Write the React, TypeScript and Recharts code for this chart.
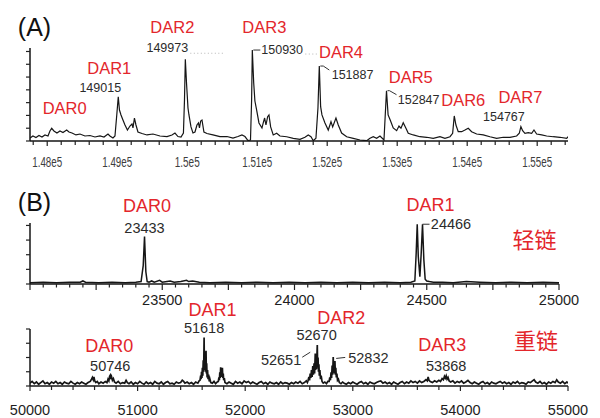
import React from 'react';
import { LineChart, Line, XAxis, YAxis, ReferenceDot } from 'recharts';

const RED = '#e3262b';
const INK = '#161616';
const LATIN = '"Liberation Sans", Arial, Helvetica, sans-serif';
const CJK = '"Noto Sans CJK SC", "Noto Sans CJK TC", sans-serif';

// ---------- Panel A: intact ADC (mass, relative intensity) ----------
const intactMass = [
  147755, 147796, 147839, 147882, 147925, 147968, 148011, 148039, 148064, 148096,
  148139, 148182, 148225, 148278, 148311, 148354, 148411, 148468, 148539, 148611,
  148682, 148754, 148811, 148868, 148896, 148939, 148968, 148996, 149015, 149032,
  149054, 149082, 149111, 149146, 149182, 149211, 149225, 149246, 149268, 149296,
  149354, 149425, 149511, 149611, 149711, 149782, 149825, 149868, 149911, 149946,
  149961, 149973, 149990, 150011, 150025, 150054, 150082, 150111, 150139, 150161,
  150175, 150192, 150211, 150239, 150282, 150368, 150468, 150568, 150654, 150725,
  150782, 150825, 150868, 150904, 150920, 150930, 150950, 150967, 150992, 151025,
  151068, 151086, 151106, 151125, 151149, 151168, 151192, 151229, 151278, 151325,
  151421, 151515, 151611, 151682, 151729, 151768, 151801, 151839, 151868, 151887,
  151906, 151925, 151968, 152015, 152039, 152054, 152078, 152125, 152158, 152206,
  152278, 152372, 152468, 152564, 152611, 152658, 152706, 152754, 152811, 152835,
  152847, 152870, 152900, 152943, 152992, 153025, 153054, 153086, 153125, 153158,
  153229, 153325, 153421, 153515, 153611, 153682, 153754, 153792, 153815, 153839,
  153872, 153921, 153968, 154015, 154063, 154135, 154229, 154325, 154421, 154515,
  154611, 154706, 154744, 154767, 154792, 154825, 154872, 154921, 154954, 154992,
  155064, 155135, 155229, 155325, 155421, 155440,
];
const intactSignal = [
  3.2, 5.4, 3.8, 5.9, 4.3, 6.5, 5.4, 10.8, 13.7, 10.8,
  8.6, 10.8, 9.1, 11.8, 9.7, 8.6, 6.5, 7.5, 5.4, 5.9,
  4.3, 5.4, 4.3, 7.5, 5.4, 3.2, 5.4, 30.1, 47.6, 33.3,
  28, 22.6, 17.2, 11.8, 16.1, 18.3, 14, 24.7, 17.2, 9.7,
  8.1, 6.5, 7.5, 5.4, 4.8, 6.5, 8.6, 4.8, 4.3, 8.6,
  44.1, 87.9, 62.4, 35.5, 28, 15.1, 8.6, 9.7, 17.2, 19.4,
  14, 21.5, 22.6, 9.7, 8.1, 6.5, 4.8, 4.8, 3.2, 4.8,
  6.5, 4.8, 0.5, 1.1, 44.1, 97.8, 62.4, 43, 33.3, 19.4,
  14, 19.4, 24.7, 17.2, 26.1, 28, 15.1, 6.5, 8.3, 5.4,
  4.6, 2.9, 1.8, 4, 6.5, 4.6, 0.3, 2.9, 35.8, 80.6,
  36.9, 28, 19.4, 11.8, 17.2, 20.8, 15.1, 24.7, 17.2, 8.6,
  4.6, 2.9, 1.1, 0.3, 2.9, 4.6, 2.9, 5.4, 1.1, 36.6,
  54.1, 28, 22.6, 14, 11.1, 16.1, 13.7, 19.7, 13.7, 8.3,
  6.5, 4.6, 4, 2.9, 4.6, 2.9, 4.6, 8.3, 26.9, 17.2,
  10, 10, 11.8, 13.7, 10, 7.5, 6.5, 4.6, 2.9, 4,
  4, 5.4, 8.3, 15.4, 11.1, 8.3, 8.9, 8.3, 11.8, 7.5,
  6.5, 5.4, 4.6, 4, 2.9, 4.6,
];

// ---------- Panel B: light chain ----------
const lightMass = [
  23000, 23050, 23100, 23150, 23190, 23200, 23210, 23260, 23310, 23360,
  23400, 23420, 23428, 23433, 23438, 23443, 23450, 23460, 23470, 23490,
  23500, 23530, 23545, 23570, 23592, 23600, 23615, 23640, 23680, 23740,
  23800, 23860, 23920, 23980, 24040, 24100, 24160, 24220, 24280, 24340,
  24400, 24440, 24455, 24460, 24464, 24468, 24474, 24479, 24484, 24489,
  24494, 24500, 24510, 24525, 24560, 24600, 24650, 24700, 24760, 24820,
  24880, 24940, 25000,
];
const lightSignal = [
  2, 3, 2, 3, 3, 5, 3, 2, 3, 2,
  3, 4, 30, 78, 20, 4, 3, 5, 3, 6,
  3, 5, 3, 4, 6, 4, 5, 3, 2, 3,
  2, 3, 2, 3, 2, 3, 2, 3, 2, 3,
  2, 3, 5, 50, 98, 45, 12, 50, 98, 40,
  8, 5, 4, 3, 3, 2, 4, 3, 2, 3,
  2, 3, 2,
];

// ---------- Panel B: heavy chain [mass, relative intensity] ----------
const heavyPoints: [number, number][] = [
  [50000, 5], [50020, 8], [50040, 4], [50060, 7], [50080, 3], [50100, 6], [50120, 9], [50140, 4], [50160, 6], [50180, 3],
  [50200, 7], [50220, 5], [50240, 8], [50260, 4], [50280, 6], [50300, 3], [50320, 7], [50340, 5], [50360, 4], [50380, 8],
  [50400, 5], [50420, 3], [50440, 6], [50460, 4], [50480, 7], [50500, 5], [50520, 3], [50540, 6], [50560, 8], [50572, 12],
  [50580, 15], [50588, 11], [50594, 16], [50602, 9], [50612, 6], [50625, 8], [50640, 4], [50660, 7], [50680, 5], [50700, 8],
  [50715, 6], [50725, 12], [50733, 9], [50740, 17], [50746, 19], [50752, 12], [50758, 16], [50766, 10], [50775, 13], [50785, 7],
  [50800, 5], [50820, 8], [50840, 4], [50860, 6], [50880, 5], [50893, 10], [50905, 6], [50920, 4], [50940, 7], [50960, 3],
  [50980, 6], [51000, 4], [51020, 8], [51040, 5], [51060, 3], [51080, 7], [51100, 4], [51120, 6], [51140, 3], [51160, 8],
  [51180, 5], [51200, 4], [51220, 7], [51240, 3], [51260, 6], [51280, 8], [51300, 4], [51320, 5], [51340, 3], [51360, 7],
  [51380, 5], [51400, 6], [51415, 10], [51428, 8], [51440, 5], [51460, 7], [51480, 4], [51500, 6], [51520, 3], [51540, 7],
  [51560, 5], [51572, 9], [51580, 10], [51586, 18], [51590, 12], [51594, 25], [51598, 14], [51602, 32], [51606, 18], [51610, 45],
  [51614, 25], [51618, 85], [51621, 30], [51624, 60], [51627, 28], [51630, 50], [51633, 25], [51636, 62], [51639, 22], [51642, 40],
  [51646, 15], [51650, 28], [51655, 12], [51660, 20], [51666, 8], [51672, 12], [51680, 6], [51695, 5], [51710, 8], [51725, 4],
  [51740, 7], [51750, 8], [51756, 15], [51760, 10], [51764, 24], [51768, 14], [51772, 33], [51776, 16], [51780, 30], [51784, 18],
  [51788, 32], [51792, 14], [51796, 22], [51800, 10], [51806, 14], [51812, 6], [51830, 4], [51850, 7], [51870, 5], [51890, 3],
  [51910, 8], [51930, 5], [51950, 7], [51970, 4], [51990, 9], [52010, 6], [52030, 8], [52050, 4], [52070, 7], [52090, 5],
  [52110, 3], [52130, 6], [52150, 8], [52170, 4], [52190, 6], [52210, 3], [52230, 7], [52250, 5], [52270, 4], [52290, 6],
  [52310, 3], [52330, 7], [52350, 4], [52370, 6], [52390, 5], [52410, 3], [52430, 6], [52450, 4], [52470, 7], [52490, 5],
  [52510, 8], [52530, 4], [52550, 6], [52568, 9], [52578, 6], [52585, 10], [52592, 16], [52598, 10], [52604, 22], [52610, 14],
  [52616, 28], [52622, 16], [52628, 35], [52634, 20], [52640, 40], [52645, 22], [52651, 57], [52655, 28], [52659, 48], [52663, 30],
  [52667, 55], [52670, 72], [52673, 35], [52677, 50], [52681, 25], [52685, 38], [52689, 18], [52694, 28], [52700, 12], [52706, 18],
  [52714, 8], [52725, 5], [52740, 7], [52755, 4], [52768, 8], [52780, 8], [52786, 15], [52792, 10], [52798, 24], [52803, 14],
  [52808, 36], [52813, 20], [52818, 51], [52822, 25], [52826, 40], [52830, 22], [52834, 44], [52838, 20], [52842, 32], [52847, 15],
  [52852, 22], [52858, 10], [52866, 12], [52875, 6], [52890, 4], [52905, 7], [52920, 5], [52940, 3], [52960, 6], [52980, 4],
  [53000, 7], [53020, 5], [53040, 3], [53060, 6], [53080, 8], [53100, 4], [53120, 6], [53140, 3], [53160, 7], [53180, 5],
  [53200, 4], [53220, 6], [53240, 8], [53260, 9], [53280, 5], [53300, 7], [53320, 4], [53340, 6], [53360, 3], [53380, 7],
  [53400, 5], [53420, 3], [53440, 6], [53460, 8], [53480, 4], [53500, 7], [53520, 5], [53540, 9], [53560, 6], [53580, 8],
  [53600, 5], [53620, 9], [53640, 6], [53660, 8], [53680, 11], [53692, 9], [53700, 16], [53708, 10], [53720, 8], [53740, 6],
  [53760, 9], [53780, 7], [53800, 10], [53815, 8], [53830, 13], [53842, 11], [53852, 17], [53860, 14], [53868, 18], [53876, 12],
  [53885, 15], [53895, 9], [53910, 7], [53930, 9], [53950, 5], [53970, 8], [53990, 6], [54010, 9], [54030, 5], [54050, 7],
  [54070, 10], [54090, 6], [54110, 4], [54130, 7], [54150, 5], [54170, 3], [54190, 6], [54210, 8], [54230, 4], [54250, 6],
  [54270, 3], [54290, 7], [54310, 5], [54330, 4], [54350, 6], [54370, 8], [54390, 5], [54410, 7], [54430, 4], [54450, 6],
  [54470, 3], [54490, 7], [54510, 5], [54530, 8], [54550, 4], [54570, 6], [54590, 5], [54610, 3], [54630, 7], [54650, 6],
  [54670, 9], [54685, 11], [54700, 7], [54720, 5], [54740, 8], [54760, 4], [54780, 6], [54800, 3], [54820, 7], [54840, 5],
  [54860, 8], [54880, 6], [54895, 11], [54910, 7], [54930, 5], [54950, 8], [54970, 4], [54990, 7], [55000, 5],
];

// ---------- axis ticks ----------
const ticksA = [
  147800, 148000, 148200, 148400, 148600, 148800, 149000, 149200, 149400, 149600,
  149800, 150000, 150200, 150400, 150600, 150800, 151000, 151200, 151400, 151600,
  151800, 152000, 152200, 152400, 152600, 152800, 153000, 153200, 153400, 153600,
  153800, 154000, 154200, 154400, 154600, 154800, 155000, 155200, 155400,
];
const majorA = [148000, 149000, 150000, 151000, 152000, 153000, 154000, 155000];
const labelsA = ['1.48e5', '1.49e5', '1.5e5', '1.51e5', '1.52e5', '1.53e5', '1.54e5', '1.55e5'];

const ticksLight = [
  23000, 23050, 23100, 23150, 23200, 23250, 23300, 23350, 23400, 23450,
  23500, 23550, 23600, 23650, 23700, 23750, 23800, 23850, 23900, 23950,
  24000, 24050, 24100, 24150, 24200, 24250, 24300, 24350, 24400, 24450,
  24500, 24550, 24600, 24650, 24700, 24750, 24800, 24850, 24900, 24950, 25000,
];
const majorLight = [23500, 24000, 24500, 25000];
const labelsLight = ['23500', '24000', '24500', '25000'];
const longLight = [23000, 23250, 23500, 23750, 24000, 24250, 24500, 24750, 25000];

const ticksHeavy = [
  50000, 50200, 50400, 50600, 50800, 51000, 51200, 51400, 51600, 51800,
  52000, 52200, 52400, 52600, 52800, 53000, 53200, 53400, 53600, 53800,
  54000, 54200, 54400, 54600, 54800, 55000,
];
const majorHeavy = [50000, 51000, 52000, 53000, 54000, 55000];
const labelsHeavy = ['50000', '51000', '52000', '53000', '54000', '55000'];

const yTicksA = [0, 13.75, 27.5, 41.25, 55, 68.75, 82.5, 96.25];
const yTicksLight = [0, 24, 48, 72, 96];
const yTicksHeavy = [0, 25, 50, 75, 100];

// ---------- peak annotations ----------
type Note = {
  x: number; y: number;
  red?: string; redDx?: number; redDy?: number;
  mass?: string; massDx?: number; massDy?: number; massAnchor?: string;
  link?: string; dots?: string;
};

const intactNotes: Note[] = [
  { x: 148064, y: 13.7, red: 'DAR0', redDx: 13, redDy: -20 },
  { x: 149015, y: 47.6, red: 'DAR1', redDx: -9, redDy: -29, mass: '149015', massDx: -18, massDy: -9 },
  { x: 149973, y: 87.9, red: 'DAR2', redDx: -13, redDy: -32, mass: '149973', massDx: -18, massDy: -11, dots: 'M 5 -6 L 38 -6' },
  { x: 150930, y: 97.8, red: 'DAR3', redDx: 12, redDy: -23, mass: '150930', massDx: 9, massDy: 0, massAnchor: 'start', link: 'M 1 0 L 8 0', dots: 'M 53 4 L 65 4' },
  { x: 151887, y: 80.6, red: 'DAR4', redDx: 21.7, redDy: -14, mass: '151887', massDx: 12.4, massDy: 9, massAnchor: 'start', link: 'M 1 0 L 4 0 L 10 4' },
  { x: 152847, y: 54.1, red: 'DAR5', redDx: 24.3, redDy: -13.7, mass: '152847', massDx: 11.3, massDy: 9.3, massAnchor: 'start', link: 'M 1 0 L 3 0 L 10 4' },
  { x: 153815, y: 26.9, red: 'DAR6', redDx: 9, redDy: -16 },
  { x: 154767, y: 15.4, red: 'DAR7', redDx: -0.5, redDy: -29.7, mass: '154767', massDx: -17, massDy: -9.7 },
];

const lightNotes: Note[] = [
  { x: 23433, y: 78, red: 'DAR0', redDx: 2.5, redDy: -30.4, mass: '23433', massDx: 0, massDy: -8.4 },
  { x: 24484, y: 98, red: 'DAR1', redDx: 8, redDy: -19, mass: '24466', massDx: 8.3, massDy: 0, massAnchor: 'start', link: 'M 0 0 L 7 0' },
];

const heavyNotes: Note[] = [
  { x: 50746, y: 19, red: 'DAR0', redDx: -1, redDy: -29.5, mass: '50746', massDx: 0, massDy: -9 },
  { x: 51618, y: 85, red: 'DAR1', redDx: 8.5, redDy: -27.5, mass: '51618', massDx: 0, massDy: -10 },
  { x: 52670, y: 72, red: 'DAR2', redDx: 24, redDy: -27, mass: '52670', massDx: -0.7, massDy: -10 },
  { x: 52651, y: 57, mass: '52651', massDx: -14, massDy: 6.7, massAnchor: 'end', link: 'M -13 3.7 L -5 -1.3' },
  { x: 52818, y: 51, mass: '52832', massDx: 15, massDy: 1.3, massAnchor: 'start', link: 'M 3 1.5 L 12 0.5' },
  { x: 53868, y: 18, red: 'DAR3', redDx: -4, redDy: -31, mass: '53868', massDx: 0, massDy: -10 },
];

const intactData = intactMass.map((m, i) => ({ m, v: intactSignal[i] }));
const lightData = lightMass.map((m, i) => ({ m, v: lightSignal[i] }));
const heavyData = heavyPoints.map(([m, v]) => ({ m, v }));

// ---------- render helpers ----------
const XTick = (props: any) => {
  const { x, y, payload, majors, labels, longs, len, longLen, labelDy, fontSize, color, textLength } = props;
  const v = payload.value;
  const idx = majors.indexOf(v);
  const isLong = longs ? longs.indexOf(v) >= 0 : idx >= 0;
  const l = isLong ? longLen : len;
  return (
    <g>
      <line x1={x} x2={x} y1={y} y2={y + l} stroke="#222" strokeWidth={1.2} />
      {idx >= 0 && (
        <text
          x={x}
          y={y + labelDy}
          textAnchor="middle"
          dominantBaseline="central"
          fontSize={fontSize}
          fontFamily={LATIN}
          fill={color}
          {...(textLength ? { textLength: textLength * (labels[idx].length / 6), lengthAdjust: 'spacingAndGlyphs' } : {})}
        >
          {labels[idx]}
        </text>
      )}
    </g>
  );
};

const YTick = (props: any) => {
  const { x, y, len } = props;
  return <line x1={x - len} x2={x} y1={y} y2={y} stroke="#222" strokeWidth={1.2} />;
};

const noteLabel = (n: Note, redSize: number, massSize: number) => (props: any) => {
  const vb = props.viewBox || {};
  const cx = (vb.x || 0) + (vb.width || 0) / 2;
  const cy = (vb.y || 0) + (vb.height || 0) / 2;
  return (
    <g>
      {n.dots && (
        <path d={n.dots} transform={`translate(${cx},${cy})`} stroke="#b5b5b5" strokeWidth={1} strokeDasharray="1 2.5" fill="none" />
      )}
      {n.link && (
        <path d={n.link} transform={`translate(${cx},${cy})`} stroke="#333" strokeWidth={1} fill="none" />
      )}
      {n.mass && (
        <text
          x={cx + (n.massDx || 0)}
          y={cy + (n.massDy || 0)}
          textAnchor={(n.massAnchor || 'middle') as any}
          dominantBaseline="central"
          fontSize={massSize}
          fontFamily={LATIN}
          fill="#2b2b2b"
        >
          {n.mass}
        </text>
      )}
      {n.red && (
        <text
          x={cx + (n.redDx || 0)}
          y={cy + (n.redDy || 0)}
          textAnchor="middle"
          dominantBaseline="central"
          fontSize={redSize}
          fontFamily={LATIN}
          fill={RED}
        >
          {n.red}
        </text>
      )}
    </g>
  );
};

const axisStyle = { stroke: '#151515', strokeWidth: 1.5 };

const Tag = ({ text, x, y, size, color, family }: any) => (
  <div
    style={{
      position: 'absolute', left: x, top: y, transform: 'translate(-50%, -50%)',
      fontSize: size, lineHeight: 1, color, fontFamily: family, whiteSpace: 'nowrap',
    }}
  >
    {text}
  </div>
);

export default function App() {
  return (
    <div style={{ position: 'absolute', left: 0, top: 0, width: 600, height: 418, background: '#fff', overflow: 'hidden' }}>
      {/* Panel A */}
      <div style={{ position: 'absolute', left: 0, top: 0 }}>
        <LineChart width={600} height={175} data={intactData} margin={{ top: 48, right: 32, bottom: 4, left: 0 }}>
          <XAxis
            dataKey="m" type="number" domain={[147754, 155440]} allowDataOverflow ticks={ticksA} interval={0}
            height={30} tickSize={0} tickMargin={0} tickLine={false} axisLine={axisStyle}
            tick={<XTick majors={majorA} labels={labelsA} len={4} longLen={5} labelDy={21} fontSize={14} color="#3d3d3d" textLength={30} />}
          />
          <YAxis
            type="number" domain={[0, 100]} allowDataOverflow ticks={yTicksA} interval={0} width={30}
            tickSize={0} tickMargin={0} tickLine={false} axisLine={axisStyle} tick={<YTick len={4} />}
          />
          <Line type="linear" dataKey="v" stroke={INK} strokeWidth={1.2} dot={false} isAnimationActive={false} />
          {intactNotes.map((n, i) => (
            <ReferenceDot key={i} x={n.x} y={n.y} r={0} fill="none" stroke="none" label={noteLabel(n, 16.5, 12.5)} />
          ))}
        </LineChart>
      </div>

      {/* Panel B: light chain */}
      <div style={{ position: 'absolute', left: 0, top: 180 }}>
        <LineChart width={600} height={140} data={lightData} margin={{ top: 43, right: 41, bottom: 6, left: 0 }}>
          <XAxis
            dataKey="m" type="number" domain={[23000, 25000]} allowDataOverflow ticks={ticksLight} interval={0}
            height={30} tickSize={0} tickMargin={0} tickLine={false} axisLine={axisStyle}
            tick={<XTick majors={majorLight} labels={labelsLight} longs={longLight} len={3.5} longLen={6} labelDy={16} fontSize={14.5} color="#1e1e1e" />}
          />
          <YAxis
            type="number" domain={[0, 100]} allowDataOverflow ticks={yTicksLight} interval={0} width={30}
            tickSize={0} tickMargin={0} tickLine={false} axisLine={axisStyle} tick={<YTick len={4} />}
          />
          <Line type="linear" dataKey="v" stroke={INK} strokeWidth={1.5} dot={false} isAnimationActive={false} />
          {lightNotes.map((n, i) => (
            <ReferenceDot key={i} x={n.x} y={n.y} r={0} fill="none" stroke="none" label={noteLabel(n, 18, 14.5)} />
          ))}
        </LineChart>
      </div>

      {/* Panel B: heavy chain */}
      <div style={{ position: 'absolute', left: 0, top: 290 }}>
        <LineChart width={600} height={128} data={heavyData} margin={{ top: 39, right: 32, bottom: 2, left: 0 }}>
          <XAxis
            dataKey="m" type="number" domain={[50000, 55000]} allowDataOverflow ticks={ticksHeavy} interval={0}
            height={30} tickSize={0} tickMargin={0} tickLine={false} axisLine={axisStyle}
            tick={<XTick majors={majorHeavy} labels={labelsHeavy} len={4} longLen={5} labelDy={23.5} fontSize={14.5} color="#1e1e1e" />}
          />
          <YAxis
            type="number" domain={[0, 100]} allowDataOverflow ticks={yTicksHeavy} interval={0} width={30}
            tickSize={0} tickMargin={0} tickLine={false} axisLine={axisStyle} tick={<YTick len={4} />}
          />
          <Line type="linear" dataKey="v" stroke={INK} strokeWidth={1.7} dot={false} isAnimationActive={false} />
          {heavyNotes.map((n, i) => (
            <ReferenceDot key={i} x={n.x} y={n.y} r={0} fill="none" stroke="none" label={noteLabel(n, 18, 14.5)} />
          ))}
        </LineChart>
      </div>

      <Tag text="(A)" x={34.5} y={27} size={25} color="#111" family={LATIN} />
      <Tag text="(B)" x={34.5} y={202} size={25} color="#111" family={LATIN} />
      <Tag text="轻链" x={534.5} y={238} size={22} color={RED} family={CJK} />
      <Tag text="重链" x={536} y={339} size={22} color={RED} family={CJK} />
    </div>
  );
}
